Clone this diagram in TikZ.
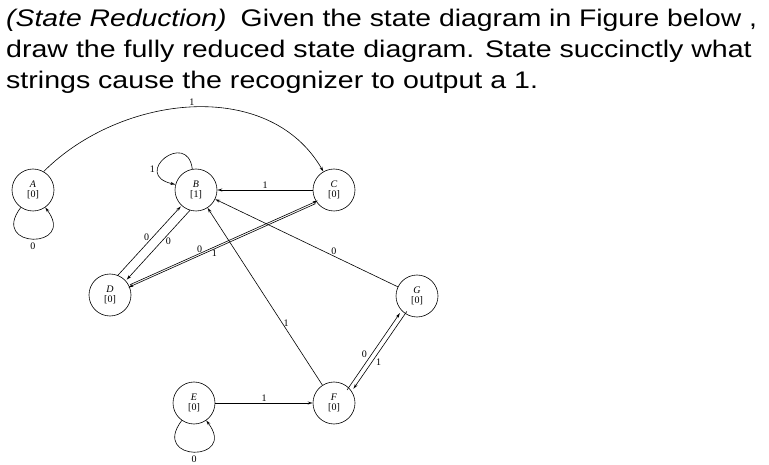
\documentclass[tikz,border=0pt]{standalone}
\usepackage{fontspec}
\setmainfont{Liberation Sans}
\newfontfamily\diagfont{Liberation Serif}
\usetikzlibrary{arrows.meta}
\begin{document}
\begin{tikzpicture}[x=1pt,y=-1pt,
  st/.style={circle,draw,line width=0.6pt,minimum size=42pt,inner sep=0pt,align=center,font=\diagfont\fontsize{10}{10}\selectfont},
  tr/.style={draw,line width=0.6pt,-{Stealth[length=5pt,width=3pt,open]}},
  lb/.style={font=\diagfont\fontsize{10}{10}\selectfont,inner sep=1pt},
  ln/.style={anchor=base west,inner sep=0pt,font=\fontsize{24}{24}\selectfont}]
\useasboundingbox (0,0) rectangle (769,465);
\node[ln] (t1) at (6,27) {\scalebox{1.18}[1]{\textit{(State Reduction)}\enspace Given the state diagram in Figure below ,}};
\node[ln] (t2) at (6,58) {\scalebox{1.19}[1]{draw the fully reduced state diagram. State succinctly what}};
\node[ln] (t3) at (6,89) {\scalebox{1.19}[1]{strings cause the recognizer to output a 1.}};
\node[st] (A) at (33,190) {\textit{A}\\{[0]}};
\node[st] (B) at (196,190) {\textit{B}\\{[1]}};
\node[st] (C) at (334,190) {\textit{C}\\{[0]}};
\node[st] (D) at (110,295) {\textit{D}\\{[0]}};
\node[st] (G) at (417,296) {\textit{G}\\{[0]}};
\node[st] (E) at (194,403) {\textit{E}\\{[0]}};
\node[st] (F) at (334,403) {\textit{F}\\{[0]}};
\draw[tr] (A.60) to[out=45,in=120] node[lb,above] {1} (C.120);
\draw[tr] (A.235) .. controls +(-32,42) and +(32,42) .. node[lb,below=3pt] {0} (A.-55);
\draw[tr] (B.100) .. controls +(-5,-40) and +(-45,-10) .. node[lb,left=2pt,pos=0.7] {1} (B.165);
\draw[tr] (C) -- node[lb,above] {1} (B);
\draw[tr] ([xshift=-3pt,yshift=1pt]D.60) -- node[lb,left=2pt,pos=0.55] {0} ([xshift=-3pt,yshift=1pt]B.235);
\draw[tr] ([xshift=3pt,yshift=-1pt]B.245) -- node[lb,right=3pt,pos=0.45] {0} ([xshift=3pt,yshift=-1pt]D.50);
\draw[tr] ([yshift=-3pt]C.210) -- node[lb,above=2pt,pos=0.62] {0} ([yshift=-3pt]D.30);
\draw[tr] ([yshift=3pt]D.20) -- node[lb,below=2pt,pos=0.45] {1} ([yshift=3pt]C.220);
\draw[tr] (G) -- node[lb,above,pos=0.35] {0} (B);
\draw[tr] (F) -- node[lb,right,pos=0.35] {1} (B);
\draw[tr] ([xshift=-2pt,yshift=-2pt]F.45) -- node[lb,above left,pos=0.4] {0} ([xshift=-2pt,yshift=-2pt]G.225);
\draw[tr] ([xshift=2pt,yshift=2pt]G.235) -- node[lb,below right,pos=0.6] {1} ([xshift=2pt,yshift=2pt]F.35);
\draw[tr] (E) -- node[lb,above] {1} (F);
\draw[tr] (E.235) .. controls +(-32,42) and +(32,42) .. node[lb,below=3pt] {0} (E.-55);
\end{tikzpicture}
\end{document}
